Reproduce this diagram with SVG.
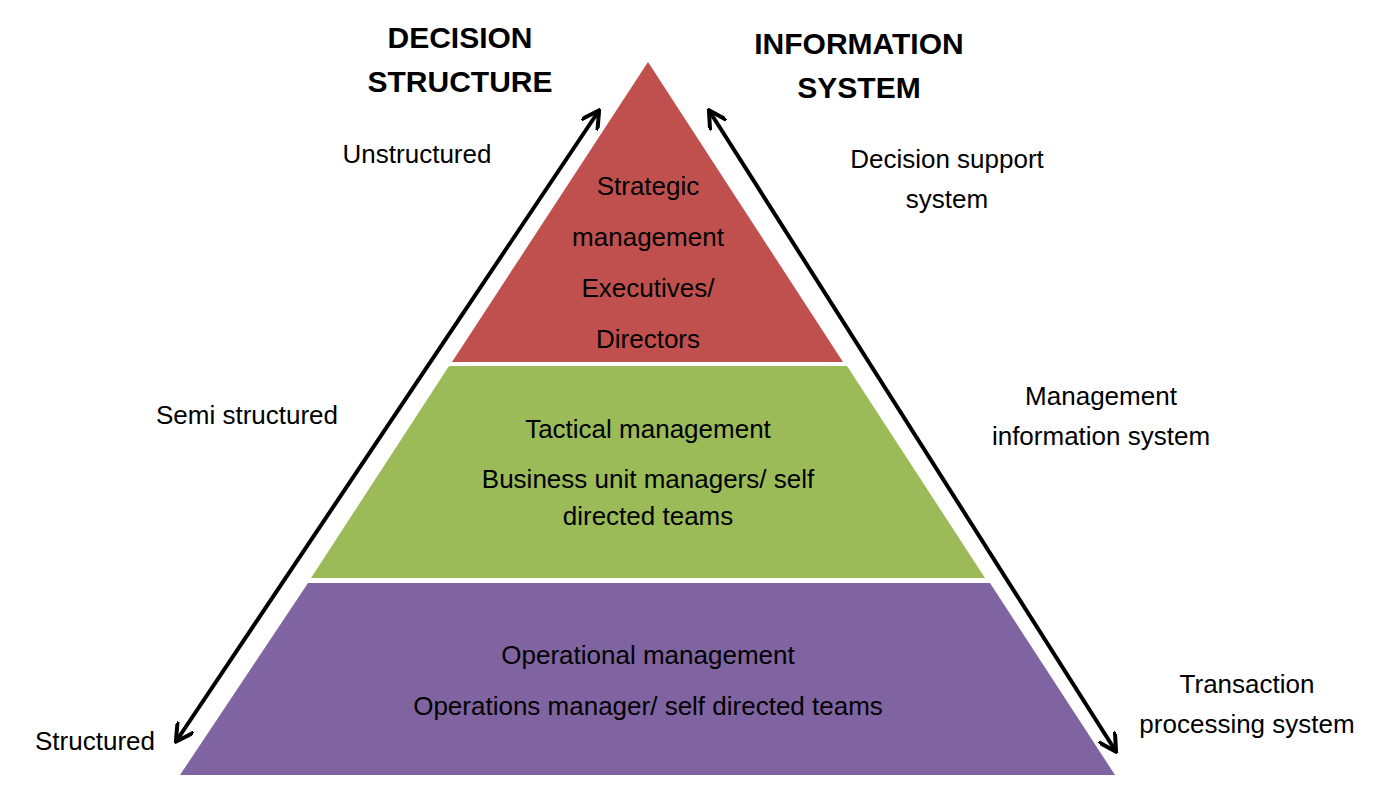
<svg xmlns="http://www.w3.org/2000/svg" width="1390" height="797" viewBox="0 0 1390 797">
<style>
text{font-family:"Liberation Sans",Arial,sans-serif;font-size:26px;fill:#000;text-anchor:middle}
.h{font-weight:bold;font-size:30px}
.c{stroke:#000;stroke-width:4;fill:none;marker-start:url(#a);marker-end:url(#a)}
</style>
<defs>
<marker id="a" viewBox="0 0 10 10" refX="8" refY="5" markerWidth="5" markerHeight="5" orient="auto-start-reverse" markerUnits="strokeWidth">
<path d="M0,0 L9,5 L0,10" fill="none" stroke="#000" stroke-width="2"/>
</marker>
</defs>
<rect width="1390" height="797" fill="#fff"/>
<g id="top"><polygon points="648,62 843,362 452,362" fill="#c0504d"/>
<text x="648" y="195">Strategic</text><text x="648" y="246">management</text><text x="648" y="297">Executives/</text><text x="648" y="348">Directors</text></g>
<g id="middle"><polygon points="449,366 847,366 985,578 311,578" fill="#9bbb59"/>
<text x="648" y="438">Tactical management</text><text x="648" y="488">Business unit managers/ self</text><text x="648" y="525">directed teams</text></g>
<g id="bottom"><polygon points="308,583 990,583 1115,775 180,775" fill="#8064a2"/>
<text x="648" y="664">Operational management</text><text x="648" y="715">Operations manager/ self directed teams</text></g>
<g id="connectors">
<line class="c" x1="598" y1="112" x2="177" y2="740"/>
<line class="c" x1="710" y1="112" x2="1115" y2="750"/>
</g>
<g id="labels">
<text class="h" x="460" y="48">DECISION</text><text class="h" x="460" y="92">STRUCTURE</text>
<text class="h" x="859" y="54">INFORMATION</text><text class="h" x="859" y="98">SYSTEM</text>
<text x="417" y="163">Unstructured</text>
<text x="247" y="424">Semi structured</text>
<text x="95" y="750">Structured</text>
<text x="947" y="168">Decision support</text><text x="947" y="208">system</text>
<text x="1101" y="405">Management</text><text x="1101" y="445">information system</text>
<text x="1247" y="693">Transaction</text><text x="1247" y="733">processing system</text>
</g>
</svg>
